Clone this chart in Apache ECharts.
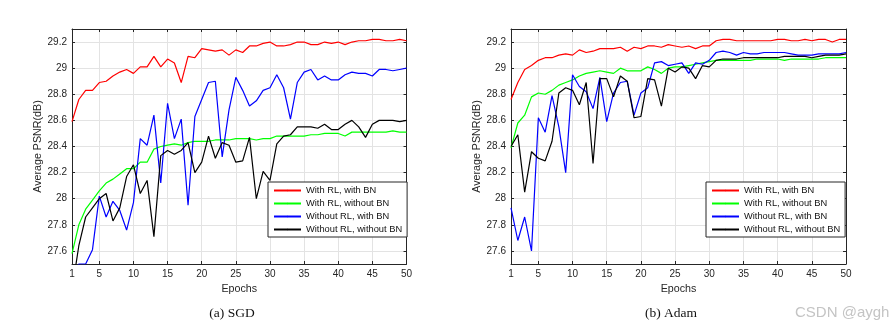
<!DOCTYPE html>
<html>
<head>
<meta charset="utf-8">
<script src="https://cdn.jsdelivr.net/npm/echarts@6/dist/echarts.min.js"></script>
<style>
  html, body { margin: 0; padding: 0; background: #ffffff; }
  #chart { width: 895px; height: 330px; }
</style>
</head>
<body>
<div id="chart"></div>
<script>
// Training epochs (x values shared by both panels)
const epochs = [1, 2, 3, 4, 5, 6, 7, 8, 9, 10, 11, 12, 13, 14, 15, 16, 17, 18, 19, 20,
  21, 22, 23, 24, 25, 26, 27, 28, 29, 30, 31, 32, 33, 34, 35, 36, 37, 38, 39, 40,
  41, 42, 43, 44, 45, 46, 47, 48, 49, 50];

const xTicks = [1, 5, 10, 15, 20, 25, 30, 35, 40, 45, 50];
const yTicks = [27.6, 27.8, 28, 28.2, 28.4, 28.6, 28.8, 29, 29.2];

const seriesNames = ['With RL, with BN', 'With RL, without BN', 'Without RL, with BN', 'Without RL, without BN'];
const seriesColors = ['#ff0000', '#00ff00', '#0000ff', '#000000'];

// (a) SGD
const sgdRlBn = [28.59, 28.76, 28.83, 28.83, 28.89, 28.90, 28.94, 28.97, 28.99, 28.96,
  29.01, 29.01, 29.09, 29.01, 29.07, 29.04, 28.89, 29.09, 29.08, 29.15,
  29.14, 29.13, 29.14, 29.10, 29.14, 29.12, 29.17, 29.17, 29.19, 29.20,
  29.17, 29.17, 29.18, 29.20, 29.20, 29.18, 29.18, 29.20, 29.19, 29.20,
  29.18, 29.20, 29.21, 29.21, 29.22, 29.22, 29.21, 29.21, 29.22, 29.21];
const sgdRlNoBn = [27.58, 27.80, 27.92, 27.99, 28.06, 28.12, 28.15, 28.19, 28.23, 28.23,
  28.28, 28.28, 28.38, 28.40, 28.41, 28.42, 28.41, 28.43, 28.44, 28.44,
  28.44, 28.45, 28.45, 28.45, 28.46, 28.46, 28.46, 28.45, 28.46, 28.46,
  28.48, 28.48, 28.48, 28.48, 28.48, 28.49, 28.49, 28.50, 28.50, 28.50,
  28.48, 28.51, 28.51, 28.51, 28.51, 28.51, 28.51, 28.52, 28.51, 28.51];
const sgdNoRlBn = [27.42, 27.50, 27.50, 27.61, 28.02, 27.86, 27.98, 27.91, 27.76, 27.97,
  28.46, 28.41, 28.64, 28.12, 28.73, 28.46, 28.61, 27.95, 28.63, 28.76,
  28.89, 28.90, 28.32, 28.68, 28.93, 28.83, 28.71, 28.75, 28.83, 28.85,
  28.95, 28.85, 28.61, 28.89, 28.97, 28.99, 28.91, 28.94, 28.91, 28.91,
  28.95, 28.97, 28.96, 28.96, 28.94, 28.99, 28.99, 28.98, 28.99, 29.00];
const sgdNoRlNoBn = [27.30, 27.64, 27.86, 27.93, 28.00, 28.04, 27.83, 27.93, 28.17, 28.26,
  28.04, 28.14, 27.71, 28.33, 28.37, 28.34, 28.37, 28.43, 28.20, 28.28,
  28.48, 28.31, 28.43, 28.41, 28.28, 28.29, 28.47, 28.00, 28.21, 28.14,
  28.42, 28.48, 28.49, 28.55, 28.55, 28.55, 28.54, 28.57, 28.53, 28.53,
  28.57, 28.60, 28.55, 28.47, 28.57, 28.60, 28.60, 28.60, 28.59, 28.60];

// (b) Adam
const adamRlBn = [28.76, 28.89, 28.99, 29.02, 29.06, 29.08, 29.08, 29.10, 29.11, 29.10,
  29.14, 29.12, 29.13, 29.15, 29.15, 29.15, 29.16, 29.13, 29.16, 29.15,
  29.17, 29.17, 29.16, 29.18, 29.17, 29.16, 29.17, 29.15, 29.17, 29.17,
  29.21, 29.22, 29.22, 29.21, 29.21, 29.21, 29.21, 29.21, 29.21, 29.22,
  29.22, 29.21, 29.21, 29.22, 29.21, 29.22, 29.22, 29.20, 29.22, 29.22];
const adamRlNoBn = [28.39, 28.58, 28.64, 28.78, 28.81, 28.80, 28.83, 28.87, 28.89, 28.91,
  28.94, 28.96, 28.97, 28.98, 28.97, 28.96, 29.00, 28.98, 28.98, 28.98,
  29.01, 28.99, 28.96, 29.00, 29.01, 29.01, 29.02, 29.03, 29.04, 29.05,
  29.06, 29.06, 29.06, 29.06, 29.06, 29.06, 29.07, 29.07, 29.07, 29.07,
  29.06, 29.07, 29.07, 29.07, 29.07, 29.07, 29.08, 29.08, 29.08, 29.08];
const adamNoRlBn = [27.93, 27.68, 27.86, 27.60, 28.62, 28.51, 28.79, 28.55, 28.20, 28.95,
  28.86, 28.82, 28.69, 28.93, 28.59, 28.81, 28.89, 28.90, 28.64, 28.81,
  28.85, 29.04, 29.05, 29.02, 29.03, 29.04, 28.96, 29.04, 29.03, 29.06,
  29.12, 29.13, 29.12, 29.10, 29.12, 29.11, 29.11, 29.12, 29.12, 29.12,
  29.12, 29.11, 29.10, 29.10, 29.10, 29.11, 29.11, 29.11, 29.11, 29.12];
const adamNoRlNoBn = [28.40, 28.49, 28.05, 28.36, 28.31, 28.29, 28.44, 28.81, 28.85, 28.83,
  28.72, 28.89, 28.27, 28.92, 28.92, 28.78, 28.94, 28.90, 28.62, 28.63,
  28.92, 28.91, 28.71, 29.00, 28.97, 29.01, 29.00, 28.92, 29.02, 29.01,
  29.06, 29.07, 29.07, 29.07, 29.08, 29.08, 29.08, 29.08, 29.08, 29.08,
  29.09, 29.09, 29.09, 29.09, 29.08, 29.09, 29.10, 29.10, 29.10, 29.11];

const panels = [
  { grid: { left: 72, right: 488.5, top: 29, bottom: 66 }, legendLeft: 268,
    data: [sgdRlBn, sgdRlNoBn, sgdNoRlBn, sgdNoRlNoBn], caption: '(a) SGD', captionX: 232 },
  { grid: { left: 511, right: 49, top: 29, bottom: 66 }, legendLeft: 706,
    data: [adamRlBn, adamRlNoBn, adamNoRlBn, adamNoRlNoBn], caption: '(b) Adam', captionX: 671 }
];

const axisColor = '#262626';
const gridColor = '#e3e3e3';
const sans = '"Liberation Sans", Arial, Helvetica, sans-serif';

function fmt(v) { return String(Number(v.toFixed(1))); }

const option = {
  animation: false,
  backgroundColor: '#ffffff',
  grid: [], xAxis: [], yAxis: [], series: [], legend: [], graphic: []
};

panels.forEach((p, gi) => {
  option.grid.push(Object.assign({ containLabel: false }, p.grid));

  const xBase = {
    type: 'value', gridIndex: gi, min: 1, max: 50,
    axisLine: { show: true, onZero: false, lineStyle: { color: axisColor, width: 1 } },
    axisTick: { show: true, inside: true, length: 3, customValues: xTicks, lineStyle: { color: axisColor } }
  };
  option.xAxis.push(Object.assign({}, xBase, {
    position: 'bottom',
    name: 'Epochs', nameLocation: 'middle', nameGap: 19,
    nameTextStyle: { color: axisColor, fontFamily: sans, fontSize: 10.7 },
    axisLabel: { show: true, customValues: xTicks, margin: 5, color: axisColor, fontFamily: sans, fontSize: 10, formatter: fmt },
    splitLine: { show: true, lineStyle: { color: gridColor, width: 1 } }
  }));
  option.xAxis.push(Object.assign({}, xBase, {
    position: 'top',
    axisLabel: { show: false },
    splitLine: { show: false }
  }));

  const yBase = {
    type: 'value', gridIndex: gi, min: 27.5, max: 29.3,
    axisLine: { show: true, onZero: false, lineStyle: { color: axisColor, width: 1 } },
    axisTick: { show: true, inside: true, length: 3, customValues: yTicks, lineStyle: { color: axisColor } }
  };
  option.yAxis.push(Object.assign({}, yBase, {
    position: 'left',
    name: 'Average PSNR(dB)', nameLocation: 'middle', nameGap: 24, nameRotate: 90,
    nameTextStyle: { color: axisColor, fontFamily: sans, fontSize: 10.7 },
    axisLabel: { show: true, customValues: yTicks, margin: 5, color: axisColor, fontFamily: sans, fontSize: 10, formatter: fmt },
    splitLine: { show: true, lineStyle: { color: gridColor, width: 1 } }
  }));
  option.yAxis.push(Object.assign({}, yBase, {
    position: 'right',
    axisLabel: { show: false },
    splitLine: { show: false }
  }));

  p.data.forEach((vals, si) => {
    option.series.push({
      type: 'line',
      name: seriesNames[si],
      xAxisIndex: gi * 2,
      yAxisIndex: gi * 2,
      data: epochs.map((e, k) => [e, vals[k]]),
      symbol: 'none',
      clip: true,
      lineStyle: { color: seriesColors[si], width: 1.2 },
      itemStyle: { color: seriesColors[si] },
      z: 3 + si
    });
  });

  option.legend.push({
    orient: 'vertical',
    left: p.legendLeft, top: 182,
    data: seriesNames,
    selectedMode: false,
    itemWidth: 27, itemHeight: 2, itemGap: 2,
    padding: [3, 5, 2, 5],
    backgroundColor: '#ffffff',
    borderColor: axisColor, borderWidth: 1, borderRadius: 0,
    textStyle: { color: '#111111', fontFamily: sans, fontSize: 9.3, lineHeight: 11 }
  });

  option.graphic.push({
    type: 'text',
    x: p.captionX, y: 313,
    style: {
      text: p.caption, fill: '#111111',
      font: '13.5px "Liberation Serif", "Times New Roman", serif',
      align: 'center', verticalAlign: 'middle'
    }
  });
});

option.graphic.push({
  type: 'text',
  x: 795, y: 313,
  style: {
    text: 'CSDN @aygh', fill: '#c4c4c4',
    font: '15px "Liberation Sans", Arial, sans-serif',
    align: 'left', verticalAlign: 'middle'
  }
});

const chart = echarts.init(document.getElementById('chart'), null, { renderer: 'canvas' });
chart.setOption(option);
</script>
</body>
</html>
